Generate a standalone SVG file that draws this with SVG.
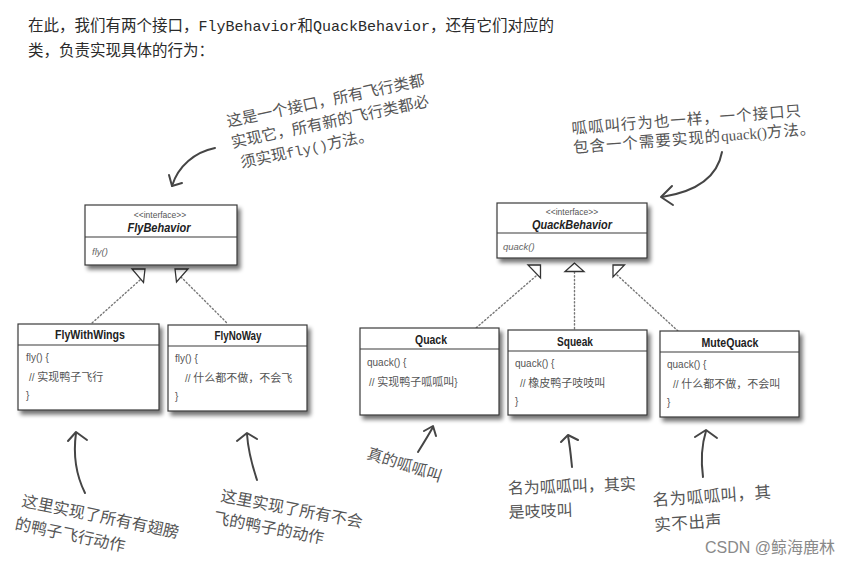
<svg xmlns="http://www.w3.org/2000/svg" width="856" height="565" viewBox="0 0 856 565">
<defs>
<filter id="sh" x="-10%" y="-10%" width="130%" height="140%">
<feGaussianBlur in="SourceAlpha" stdDeviation="2.2"/>
<feOffset dx="3" dy="4"/>
<feComponentTransfer><feFuncA type="linear" slope="0.55"/></feComponentTransfer>
<feMerge><feMergeNode/><feMergeNode in="SourceGraphic"/></feMerge>
</filter>
</defs>
<style>
.box{fill:#fff;stroke:#3a3a3a;stroke-width:1.2}
.div{stroke:#3a3a3a;stroke-width:1.1}
.f{font-family:"Liberation Sans","Noto Sans CJK SC",sans-serif}
.title{font-family:"Liberation Sans",sans-serif;font-weight:bold;font-size:12px;fill:#222;text-anchor:middle}
.ititle{font-family:"Liberation Sans",sans-serif;font-weight:bold;font-style:italic;font-size:12px;fill:#222;text-anchor:middle}
.stereo{font-family:"Liberation Sans",sans-serif;font-size:8.5px;fill:#555;text-anchor:middle}
.meth{font-family:"Liberation Sans",sans-serif;font-style:italic;font-size:9.5px;fill:#666}
.body{font-family:"Liberation Sans","Noto Sans CJK SC",sans-serif;font-size:10px;fill:#555}
.cj{font-family:"Noto Sans CJK SC",sans-serif;font-size:11px}
.dot{fill:none;stroke:#777;stroke-width:1.4;stroke-dasharray:1.3 2.4;stroke-linecap:round}
.tri{fill:#fff;stroke:#333;stroke-width:1.3;stroke-linejoin:miter}
.hand{fill:none;stroke:#454545;stroke-width:2;stroke-linecap:round;stroke-linejoin:round}
.note{font-family:"Noto Sans CJK SC",sans-serif;fill:#555}
.head{font-family:"Noto Sans CJK SC",sans-serif;font-size:15.5px;fill:#2a2a2a}
.mono{font-family:"Liberation Mono",monospace;font-size:15px}
</style>
<rect width="856" height="565" fill="#fff"/>

<g id="intro">
<text class="head" x="28" y="31">在此，我们有两个接口，<tspan class="mono">FlyBehavior</tspan>和<tspan class="mono">QuackBehavior</tspan>，还有它们对应的</text>
<text class="head" x="28" y="56">类，负责实现具体的行为：</text>
</g>

<g id="connectors">
<line class="dot" x1="140" y1="280" x2="92" y2="323"/>
<line class="dot" x1="181" y1="277" x2="228" y2="324"/>
<line class="dot" x1="536" y1="276" x2="476" y2="328"/>
<line class="dot" x1="574.5" y1="272" x2="574.5" y2="330"/>
<line class="dot" x1="617" y1="275" x2="678" y2="331"/>
<polygon class="tri" points="132,269 145,269 143.5,282.5"/>
<polygon class="tri" points="175,269 188,269 176.5,282"/>
<polygon class="tri" points="528,265 540.5,265 540.5,278"/>
<polygon class="tri" points="574.5,263 565,271.5 584,271.5"/>
<polygon class="tri" points="613,265 624.5,265 613,277"/>
</g>

<g id="FlyBehavior">
<rect class="box" x="85" y="205" width="152" height="60" filter="url(#sh)"/>
<line class="div" x1="85" y1="237" x2="237" y2="237"/>
<text class="stereo" x="160" y="218">&lt;&lt;interface&gt;&gt;</text>
<text class="ititle" x="159" y="232" textLength="63" lengthAdjust="spacingAndGlyphs">FlyBehavior</text>
<text class="meth" x="92" y="255">fly()</text>
</g>

<g id="QuackBehavior">
<rect class="box" x="497" y="203" width="150" height="55" filter="url(#sh)"/>
<line class="div" x1="497" y1="233" x2="647" y2="233"/>
<text class="stereo" x="572" y="215">&lt;&lt;interface&gt;&gt;</text>
<text class="ititle" x="572" y="229" textLength="80" lengthAdjust="spacingAndGlyphs">QuackBehavior</text>
<text class="meth" x="503" y="250">quack()</text>
</g>

<g id="FlyWithWings">
<rect class="box" x="18" y="324" width="141" height="86" filter="url(#sh)"/>
<line class="div" x1="18" y1="345" x2="159" y2="345"/>
<text class="title" x="90" y="339" textLength="70" lengthAdjust="spacingAndGlyphs">FlyWithWings</text>
<text class="body" x="26" y="361">fly() {</text>
<text class="body" x="29" y="381">// <tspan class="cj">实现鸭子飞行</tspan></text>
<text class="body" x="26" y="399">}</text>
</g>

<g id="FlyNoWay">
<rect class="box" x="168" y="325" width="139" height="86" filter="url(#sh)"/>
<line class="div" x1="168" y1="346" x2="307" y2="346"/>
<text class="title" x="238" y="340" textLength="47" lengthAdjust="spacingAndGlyphs">FlyNoWay</text>
<text class="body" x="175" y="362">fly() {</text>
<text class="body" x="185" y="382">// <tspan class="cj">什么都不做，不会飞</tspan></text>
<text class="body" x="175" y="400">}</text>
</g>

<g id="Quack">
<rect class="box" x="360" y="328" width="139" height="87" filter="url(#sh)"/>
<line class="div" x1="360" y1="349" x2="499" y2="349"/>
<text class="title" x="431" y="344" textLength="32" lengthAdjust="spacingAndGlyphs">Quack</text>
<text class="body" x="367" y="366">quack() {</text>
<text class="body" x="369" y="386">// <tspan class="cj">实现鸭子呱呱叫</tspan>}</text>
</g>

<g id="Squeak">
<rect class="box" x="508" y="330" width="139" height="85" filter="url(#sh)"/>
<line class="div" x1="508" y1="351" x2="647" y2="351"/>
<text class="title" x="575" y="346" textLength="36" lengthAdjust="spacingAndGlyphs">Squeak</text>
<text class="body" x="515" y="367">quack() {</text>
<text class="body" x="520" y="387">// <tspan class="cj">橡皮鸭子吱吱叫</tspan></text>
<text class="body" x="515" y="405">}</text>
</g>

<g id="MuteQuack">
<rect class="box" x="660" y="331" width="139" height="86" filter="url(#sh)"/>
<line class="div" x1="660" y1="352" x2="799" y2="352"/>
<text class="title" x="730" y="347" textLength="57" lengthAdjust="spacingAndGlyphs">MuteQuack</text>
<text class="body" x="667" y="368">quack() {</text>
<text class="body" x="673" y="388">// <tspan class="cj">什么都不做，不会叫</tspan></text>
<text class="body" x="667" y="406">}</text>
</g>

<g id="note-fly-interface">
<g transform="translate(228,127) rotate(-12)">
<text class="note" font-size="15.5" x="0" y="0">这是一个接口，所有飞行类都</text>
<text class="note" font-size="15.5" x="0" y="21.5">实现它，所有新的飞行类都必</text>
<text class="note" font-size="15.5" x="5" y="43">须实现<tspan font-family="Liberation Mono,monospace" font-size="14">fly()</tspan>方法。</text>
</g>
<path class="hand" d="M215,148 C195,152 178,166 172,186"/>
<path class="hand" d="M169,175 L172,186 L182,183"/>
</g>

<g id="note-quack-interface">
<g transform="translate(572,134) rotate(-4.5)">
<text class="note" font-size="15.5" letter-spacing="1" x="0" y="0">呱呱叫行为也一样，一个接口只</text>
<text class="note" font-size="15.5" letter-spacing="1" x="0" y="19">包含一个需要实现的<tspan font-family="Liberation Serif,serif" font-size="15" letter-spacing="0">quack()</tspan>方法。</text>
</g>
<path class="hand" d="M722,152 C718,174 700,191 662,197"/>
<path class="hand" d="M672,186 L661,197 L673,205"/>
</g>

<g id="note-flywithwings">
<g transform="translate(21,506) rotate(11.6)">
<text class="note" font-size="16" x="0" y="0">这里实现了所有有翅膀</text>
<text class="note" font-size="16" x="-2" y="24">的鸭子飞行动作</text>
</g>
<path class="hand" d="M85,493 C76,475 73,455 76,433"/>
<path class="hand" d="M68,441 L76,432 L87,440"/>
</g>

<g id="note-flynoway">
<g transform="translate(220,501) rotate(10.7)">
<text class="note" font-size="16" x="0" y="0">这里实现了所有不会</text>
<text class="note" font-size="16" x="-3" y="23">飞的鸭子的动作</text>
</g>
<path class="hand" d="M257,480 C252,465 248,450 247,434"/>
<path class="hand" d="M237,441 L247,433 L257,439"/>
</g>

<g id="note-quack">
<g transform="translate(366,458) rotate(18)">
<text class="note" font-size="15.5" x="0" y="0">真的呱呱叫</text>
</g>
<path class="hand" d="M418,452 C423,444 428,436 433,427"/>
<path class="hand" d="M424,431 L433,426 L436,436"/>
</g>

<g id="note-squeak">
<g transform="translate(508,494) rotate(-2)">
<text class="note" font-size="16" x="0" y="0">名为呱呱叫，其实</text>
<text class="note" font-size="16" x="0" y="24">是吱吱叫</text>
</g>
<path class="hand" d="M572,467 C571,457 570,446 568,436"/>
<path class="hand" d="M561,442 L568,435 L578,440"/>
</g>

<g id="note-mutequack">
<g transform="translate(653,506) rotate(-4)">
<text class="note" font-size="16.5" letter-spacing="0.5" x="0" y="0">名为呱呱叫，其</text>
<text class="note" font-size="16.5" letter-spacing="0.5" x="0" y="25">实不出声</text>
</g>
<path class="hand" d="M703,477 C701,462 701,447 706,431"/>
<path class="hand" d="M695,437 L706,430 L717,438"/>
</g>

<text class="f" x="705" y="553" font-size="16" fill="#8a8a8a">CSDN @鲸海鹿林</text>
</svg>
